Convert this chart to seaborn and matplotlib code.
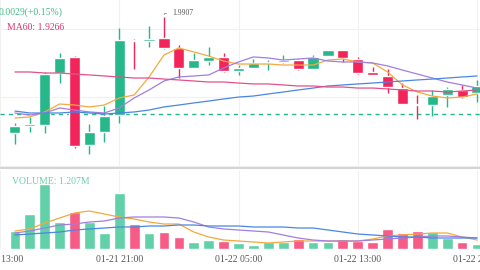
import numpy as np
import matplotlib
matplotlib.use("Agg")
import matplotlib.pyplot as plt
import seaborn as sns

# hourly candles, 01-21 14:00 .. 01-22 21:00
opens = [1.8888, 1.8950, 1.8959, 1.9415, 1.9556, 1.8783, 1.8897, 1.9046, 1.9705, 1.9696,
         1.9722, 1.9635, 1.9459, 1.9520, 1.9556, 1.9433, 1.9459, 1.9499, 1.9512, 1.9529,
         1.9450, 1.9564, 1.9617, 1.9538, 1.9424, 1.9389, 1.9283, 1.9138, 1.9134, 1.9222,
         1.9266, 1.9240]
highs = [1.8976, 1.9029, 1.9424, 1.9591, 1.9564, 1.8967, 1.9125, 1.9810, 1.9710, 1.9828,
         1.9907, 1.9661, 1.9591, 1.9643, 1.9591, 1.9485, 1.9538, 1.9529, 1.9573, 1.9538,
         1.9573, 1.9620, 1.9620, 1.9556, 1.9468, 1.9450, 1.9327, 1.9222, 1.9266, 1.9292,
         1.9310, 1.9354]
lows = [1.8792, 1.8897, 1.8888, 1.9327, 1.8757, 1.8704, 1.8809, 1.8976, 1.9450, 1.9643,
        1.9626, 1.9371, 1.9455, 1.9485, 1.9424, 1.9398, 1.9455, 1.9441, 1.9503, 1.9441,
        1.9446, 1.9560, 1.9512, 1.9406, 1.9395, 1.9240, 1.9140, 1.9011, 1.9038, 1.9117,
        1.9196, 1.9160]
closes = [1.8950, 1.8967, 1.9406, 1.9547, 1.8774, 1.8897, 1.9038, 1.9705, 1.9696, 1.9714,
          1.9635, 1.9459, 1.9529, 1.9556, 1.9433, 1.9459, 1.9503, 1.9512, 1.9529, 1.9450,
          1.9556, 1.9617, 1.9547, 1.9415, 1.9398, 1.9292, 1.9143, 1.9130, 1.9213, 1.9275,
          1.9204, 1.9301]

ma5 = [1.9020, 1.9029, 1.9073, 1.9143, 1.9134, 1.9117, 1.9134, 1.9196, 1.9222, 1.9380,
       1.9573, 1.9635, 1.9600, 1.9564, 1.9520, 1.9494, 1.9494, 1.9494, 1.9485, 1.9485,
       1.9485, 1.9529, 1.9538, 1.9512, 1.9503, 1.9424, 1.9310, 1.9248, 1.9213, 1.9196,
       1.9204, 1.9231]
ma10 = [1.9064, 1.9046, 1.9064, 1.9108, 1.9090, 1.9073, 1.9064, 1.9108, 1.9196, 1.9266,
        1.9345, 1.9380, 1.9389, 1.9398, 1.9459, 1.9512, 1.9556, 1.9547, 1.9529, 1.9538,
        1.9547, 1.9520, 1.9512, 1.9512, 1.9503, 1.9477, 1.9441, 1.9406, 1.9371, 1.9336,
        1.9310, 1.9283]
ma30 = [1.9081, 1.9064, 1.9064, 1.9064, 1.9073, 1.9064, 1.9055, 1.9064, 1.9073, 1.9090,
        1.9117, 1.9134, 1.9152, 1.9169, 1.9187, 1.9204, 1.9213, 1.9231, 1.9248, 1.9266,
        1.9283, 1.9301, 1.9310, 1.9319, 1.9327, 1.9336, 1.9345, 1.9354, 1.9362, 1.9371,
        1.9380, 1.9389]
ma60 = [1.9424, 1.9424, 1.9415, 1.9415, 1.9406, 1.9398, 1.9389, 1.9380, 1.9371, 1.9371,
        1.9362, 1.9354, 1.9345, 1.9336, 1.9336, 1.9327, 1.9319, 1.9319, 1.9310, 1.9301,
        1.9301, 1.9292, 1.9292, 1.9283, 1.9283, 1.9275, 1.9266, 1.9257, 1.9257, 1.9248,
        1.9257, 1.9266]

# volume in millions
volume = [4.3, 8.4, 15.6, 6.5, 8.9, 6.5, 3.8, 13.4, 6.0, 3.8, 4.1, 2.9, 1.7, 2.2, 1.9, 1.4,
          1.0, 1.7, 1.7, 2.4, 1.7, 1.7, 2.4, 1.9, 1.7, 4.8, 3.8, 4.3, 4.1, 2.6, 1.7, 1.207]
vma5 = [4.32, 4.8, 6.24, 7.44, 8.64, 9.12, 8.4, 7.68, 7.2, 6.48, 6.0, 6.0, 4.08, 2.88, 2.16,
        1.92, 1.68, 1.44, 1.68, 1.92, 1.92, 1.92, 1.92, 1.92, 2.4, 3.12, 3.36, 3.6, 3.84,
        3.84, 2.88, 2.16]
vma10 = [3.84, 4.32, 5.04, 5.76, 6.0, 6.48, 6.72, 7.44, 7.68, 7.68, 7.68, 7.44, 6.48, 5.28,
         4.8, 4.56, 4.32, 4.08, 3.36, 2.64, 2.16, 1.92, 1.92, 1.92, 2.16, 2.4, 2.64, 2.88,
         3.12, 3.12, 2.88, 2.64]
vma30 = [3.36, 3.6, 3.84, 4.08, 4.56, 4.8, 5.04, 5.28, 5.28, 5.52, 5.52, 5.76, 5.76, 5.52,
         5.52, 5.52, 5.28, 5.28, 5.28, 5.04, 5.04, 4.56, 4.08, 3.6, 3.36, 3.12, 2.88, 2.88,
         2.64, 2.64, 2.64, 2.64]

tick_idx = [-1, 7, 15, 23, 31]
tick_labels = ["01-21 13:00", "01-21 21:00", "01-22 05:00", "01-22 13:00", "01-22 21:00"]
price_line = 1.9055
high_label = "1.9907"

sns.set_theme(style="white")
plt.rcParams['font.family'] = ['Liberation Serif', 'DejaVu Serif']

UP, DOWN = '#26b88a', '#f2245a'
UP_V, DOWN_V = '#62d1a9', '#f65c86'
C5, C10, C30, C60 = '#f4a93e', '#a07fe0', '#4a86e6', '#e2528a'

x = np.arange(len(opens))
o, h, l, c = map(np.array, (opens, highs, lows, closes))
up = c >= o

fig = plt.figure(figsize=(4.8, 2.7), dpi=100)
ax = fig.add_axes([0, 102 / 270, 1, 168 / 270])
axv = fig.add_axes([0, 21 / 270, 1, 79 / 270])

# candles
cols = np.where(up, UP, DOWN)
ax.vlines(x, l, h, colors=cols, lw=1.0, zorder=2)
body = np.maximum(np.abs(c - o), 0.0012)
ax.bar(x, body, bottom=np.minimum(o, c), width=0.75, color=cols, zorder=3)

for vals, col in [(ma5, C5), (ma10, C10), (ma30, C30), (ma60, C60)]:
    sns.lineplot(x=x, y=vals, ax=ax, color=col, lw=0.9, zorder=4)

ax.axhline(price_line, color=UP, ls=(0, (3, 3)), lw=1.0, zorder=1)

ax.annotate(high_label, xy=(10, max(highs)), xytext=(6, 3), textcoords='offset points',
            fontsize=5.5, color='#555555', va='center',
            arrowprops=dict(arrowstyle='-', color='#888888', lw=0.6,
                            connectionstyle='angle,angleA=0,angleB=90,rad=0'))

ax.set_xlim(-0.5, 31.2)
ax.set_ylim(1.8581, 2.0056)
ax.set_xticks(tick_idx)
ax.set_yticks([1.86, 1.92, 1.98])
ax.tick_params(labelbottom=False, labelleft=False, length=0)
ax.grid(True, color='#f1f1f1', lw=0.8)
for s in ['top', 'left', 'right']:
    ax.spines[s].set_visible(False)
ax.spines['bottom'].set_color('#d4d4d4')
ax.spines['bottom'].set_linewidth(1.5)

# volume pane
vcols = np.where(up, UP_V, DOWN_V)
axv.bar(x, volume, width=0.72, color=vcols, zorder=2)
for vals, col in [(vma5, C5), (vma10, C10), (vma30, C30)]:
    sns.lineplot(x=x, y=vals, ax=axv, color=col, lw=0.9, zorder=3)

axv.set_xlim(-0.5, 31.2)
axv.set_ylim(0, 18.96)
axv.set_xticks(tick_idx, tick_labels)
axv.set_yticks([])
axv.tick_params(axis='x', length=0, pad=4, labelsize=7, labelcolor='#555555')
axv.grid(True, axis='x', color='#f1f1f1', lw=0.8)
axv.set_xlabel('')
axv.set_ylabel('')
ax.set_xlabel('')
ax.set_ylabel('')
for s in axv.spines.values():
    s.set_visible(False)

fig.text(-1 / 480, 1 - 12 / 270, "0.0029(+0.15%)", color='#44b985', fontsize=7, va='center')
fig.text(7 / 480, 1 - 27 / 270, "MA60: 1.9266", color='#e2336a', fontsize=7, va='center')
fig.text(12 / 480, 1 - 182 / 270, "VOLUME: 1.207M", color='#6ccfa9', fontsize=7, va='center')

fig.savefig('out.png', dpi=100)
